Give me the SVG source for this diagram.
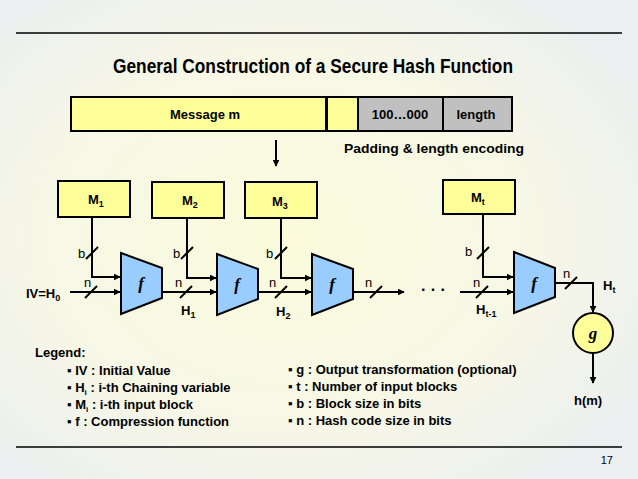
<svg xmlns="http://www.w3.org/2000/svg" width="638" height="479" viewBox="0 0 638 479">
<defs>
<radialGradient id="bg" cx="0.45" cy="0.5" r="0.65">
<stop offset="0" stop-color="#fbfbdc"/><stop offset="0.6" stop-color="#f6f7e6"/><stop offset="1" stop-color="#eceef0"/>
</radialGradient>
<marker id="ah" viewBox="0 0 10 10" refX="9" refY="5" markerWidth="7" markerHeight="7" orient="auto" markerUnits="userSpaceOnUse"><path d="M0,0 L10,5 L0,10 z" fill="#000"/></marker>
<style>
text{font-family:"Liberation Sans",Arial,sans-serif;font-weight:bold;fill:#000}
.box{fill:#ffff99;stroke:#000;stroke-width:2}
.gray{fill:#c0c0c0;stroke:#000;stroke-width:2}
.f{fill:#99ccff;stroke:#000;stroke-width:2}
.ln{fill:none;stroke:#000;stroke-width:2}
.sl{stroke:#000;stroke-width:2}
.lab{font-size:13px}
.it{font-family:"Liberation Serif",serif;font-style:italic;font-size:17px}
.sm{font-weight:normal;font-size:13px}
</style>
</defs>
<rect width="638" height="479" fill="url(#bg)"/>
<line x1="16" y1="33" x2="622" y2="33" stroke="#000" stroke-width="1.5"/>
<line x1="16" y1="447" x2="622" y2="447" stroke="#000" stroke-width="1.5"/>
<text x="313" y="73" font-size="20" text-anchor="middle" textLength="400" lengthAdjust="spacingAndGlyphs">General Construction of a Secure Hash Function</text>
<text x="613" y="464" font-size="11" font-weight="normal" text-anchor="end" fill="#444" style="font-weight:normal">17</text>

<g id="message">
<rect class="box" x="71" y="97" width="255" height="34"/>
<rect class="box" x="327" y="97" width="31" height="34"/>
<rect class="gray" x="358" y="97" width="85" height="34"/>
<rect class="gray" x="443" y="97" width="69" height="34"/>
<text class="lab" x="205" y="119" text-anchor="middle">Message m</text>
<text class="lab" x="400" y="119" text-anchor="middle">100…000</text>
<text class="lab" x="476" y="119" text-anchor="middle">length</text>
<text x="434" y="153" font-size="13" text-anchor="middle" textLength="180" lengthAdjust="spacingAndGlyphs">Padding &amp; length encoding</text>
</g>
<g id="M1"><rect class="box" x="58" y="181" width="72" height="36"/><text class="lab" x="88" y="204">M<tspan font-size="9" dy="3">1</tspan></text></g>
<g id="M2"><rect class="box" x="152" y="182" width="72" height="36"/><text class="lab" x="182" y="205">M<tspan font-size="9" dy="3">2</tspan></text></g>
<g id="M3"><rect class="box" x="245" y="182" width="72" height="36"/><text class="lab" x="272" y="206">M<tspan font-size="9" dy="3">3</tspan></text></g>
<g id="Mt"><rect class="box" x="443" y="180" width="72" height="34"/><text class="lab" x="471" y="202">M<tspan font-size="9" dy="3">t</tspan></text></g>

<g id="f1"><path class="f" d="M121,253 L162,268 L162,298 L121,314 z"/><text class="it" x="141" y="289" text-anchor="middle">f</text></g>
<g id="f2"><path class="f" d="M217,254 L258,269 L258,299 L217,315 z"/><text class="it" x="237" y="290" text-anchor="middle">f</text></g>
<g id="f3"><path class="f" d="M312,254 L353,269 L353,299 L312,315 z"/><text class="it" x="332" y="290" text-anchor="middle">f</text></g>
<g id="ft"><path class="f" d="M514,252 L555,268 L555,297 L514,313 z"/><text class="it" x="534" y="289" text-anchor="middle">f</text></g>
<g id="g"><circle cx="593" cy="333" r="20" fill="#ffff99" stroke="#000" stroke-width="2"/><text class="it" x="593" y="339" text-anchor="middle">g</text></g>

<g id="connectors">
<path class="ln" d="M92,217 V277 H120" marker-end="url(#ah)"/>
<path class="ln" d="M187,218 V278 H216" marker-end="url(#ah)"/>
<path class="ln" d="M281,218 V278 H311" marker-end="url(#ah)"/>
<path class="ln" d="M483,214 V277 H513" marker-end="url(#ah)"/>
<path class="ln" d="M70,292 H120" marker-end="url(#ah)"/>
<path class="ln" d="M162,292 H216" marker-end="url(#ah)"/>
<path class="ln" d="M258,292 H311" marker-end="url(#ah)"/>
<path class="ln" d="M353,292 H404" marker-end="url(#ah)"/>
<path class="ln" d="M460,292 H513" marker-end="url(#ah)"/>
<path class="ln" d="M555,283 H593 V312" marker-end="url(#ah)"/>
<path class="ln" d="M593,353 V383" marker-end="url(#ah)"/>
<path class="ln" d="M276,140 V166" marker-end="url(#ah)" stroke-width="3"/>
<g class="sl">
<line x1="86" y1="259" x2="98" y2="247"/><line x1="181" y1="259" x2="193" y2="247"/><line x1="275" y1="259" x2="287" y2="247"/><line x1="477" y1="259" x2="489" y2="247"/>
<line x1="85" y1="298" x2="97" y2="286"/><line x1="180" y1="298" x2="192" y2="286"/><line x1="275" y1="298" x2="287" y2="286"/><line x1="370" y1="298" x2="382" y2="286"/><line x1="476" y1="298" x2="488" y2="286"/><line x1="565" y1="289" x2="577" y2="277"/>
</g>
<g font-weight="normal">
<text class="sm" x="78" y="258" style="font-weight:normal">b</text><text class="sm" x="173" y="258" style="font-weight:normal">b</text><text class="sm" x="266" y="258" style="font-weight:normal">b</text><text class="sm" x="465" y="256" style="font-weight:normal">b</text>
<text class="sm" x="84" y="287" style="font-weight:normal">n</text><text class="sm" x="175" y="287" style="font-weight:normal">n</text><text class="sm" x="269" y="287" style="font-weight:normal">n</text><text class="sm" x="365" y="287" style="font-weight:normal">n</text><text class="sm" x="473" y="287" style="font-weight:normal">n</text><text class="sm" x="563" y="278" style="font-weight:normal">n</text>
</g>
<text x="421" y="295" font-size="16">· · ·</text>
</g>
<text class="lab" x="26" y="298">IV=H<tspan font-size="9" dy="3">0</tspan></text>
<text class="lab" x="181" y="315">H<tspan font-size="9" dy="3">1</tspan></text>
<text class="lab" x="276" y="316">H<tspan font-size="9" dy="3">2</tspan></text>
<text class="lab" x="476" y="314">H<tspan font-size="9" dy="3">t-1</tspan></text>
<text class="lab" x="603" y="290">H<tspan font-size="9" dy="3">t</tspan></text>
<text class="lab" x="574" y="405">h(m)</text>

<g id="legend" font-size="13">
<text x="35" y="357" font-size="13">Legend:</text>
<text x="67" y="375" font-size="13">▪ IV : Initial Value</text>
<text x="67" y="392" font-size="13">▪ H<tspan font-size="8" dy="3">i</tspan><tspan dy="-3"> : i-th Chaining variable</tspan></text>
<text x="67" y="409" font-size="13">▪ M<tspan font-size="8" dy="3">i</tspan><tspan dy="-3"> : i-th input block</tspan></text>
<text x="67" y="426" font-size="13">▪ f : Compression function</text>
<text x="288" y="374" font-size="13">▪ g : Output transformation (optional)</text>
<text x="288" y="391" font-size="13">▪ t : Number of input blocks</text>
<text x="288" y="408" font-size="13">▪ b : Block size in bits</text>
<text x="288" y="425" font-size="13">▪ n : Hash code size in bits</text>
</g>
</svg>
